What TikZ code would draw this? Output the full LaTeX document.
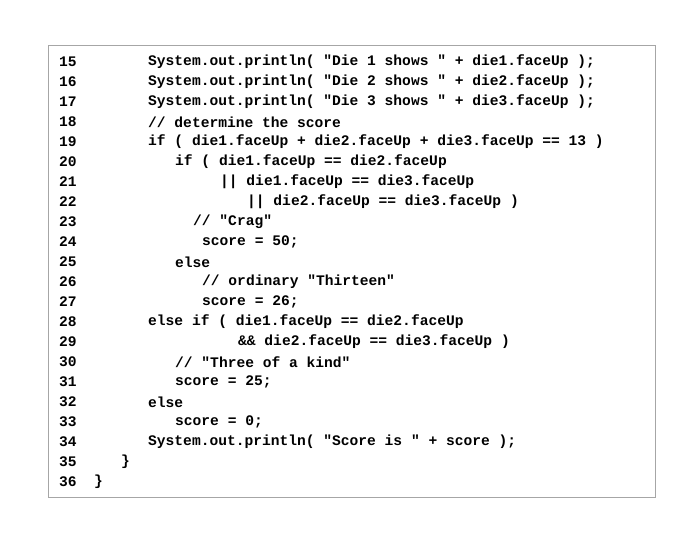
\documentclass[tikz,border=0pt]{standalone}
\usepackage{fontspec}
\setmonofont{Liberation Mono}
\begin{document}
\begin{tikzpicture}[x=1pt,y=-1pt,
  code/.style={anchor=west,inner sep=0pt,font=\ttfamily\bfseries\fontsize{14.6}{16}\selectfont},
  num/.style={code}]
\useasboundingbox (0,0) rectangle (693,543);
\draw[gray!70,line width=0.8pt] (48,45) rectangle (655,497);
\foreach \n [count=\i from 0] in {15,...,36}
  \node[num] (n\n) at (59,62+20*\i) {\n};
\node[code] (c15) at (148,62) {System.out.println( "Die 1 shows " + die1.faceUp );};
\node[code] (c16) at (148,82) {System.out.println( "Die 2 shows " + die2.faceUp );};
\node[code] (c17) at (148,102) {System.out.println( "Die 3 shows " + die3.faceUp );};
\node[code] (c18) at (148,122) {// determine the score};
\node[code] (c19) at (148,142) {if ( die1.faceUp + die2.faceUp + die3.faceUp == 13 )};
\node[code] (c20) at (175,162) {if ( die1.faceUp == die2.faceUp};
\node[code] (c21) at (220,182) {|| die1.faceUp == die3.faceUp};
\node[code] (c22) at (247,202) {|| die2.faceUp == die3.faceUp )};
\node[code] (c23) at (193,222) {// "Crag"};
\node[code] (c24) at (202,242) {score = 50;};
\node[code] (c25) at (175,262) {else};
\node[code] (c26) at (202,282) {// ordinary "Thirteen"};
\node[code] (c27) at (202,302) {score = 26;};
\node[code] (c28) at (148,322) {else if ( die1.faceUp == die2.faceUp};
\node[code] (c29) at (238,342) {\&\& die2.faceUp == die3.faceUp )};
\node[code] (c30) at (175,362) {// "Three of a kind"};
\node[code] (c31) at (175,382) {score = 25;};
\node[code] (c32) at (148,402) {else};
\node[code] (c33) at (175,422) {score = 0;};
\node[code] (c34) at (148,442) {System.out.println( "Score is " + score );};
\node[code] (c35) at (121,462) {\}};
\node[code] (c36) at (94,482) {\}};
\end{tikzpicture}
\end{document}
